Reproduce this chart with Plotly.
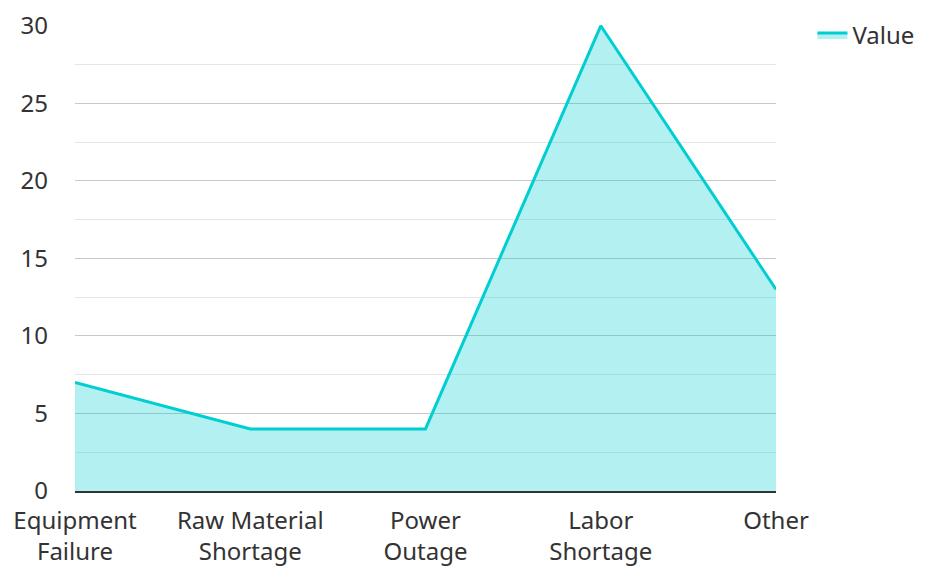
import plotly.graph_objects as go

categories = ["Equipment<br>Failure", "Raw Material<br>Shortage", "Power<br>Outage", "Labor<br>Shortage", "Other"]
values = [7, 4, 4, 30, 13]
y_ticks = [0, 5, 10, 15, 20, 25, 30]

fig = go.Figure()
fig.add_trace(go.Scatter(
    x=categories, y=values, name="Value", mode="lines",
    line=dict(color="#00CED1", width=3),
    fill="tozeroy", fillcolor="rgba(0,206,209,0.3)",
))

# page body has an 8px default margin, compensated here
fig.update_layout(
    width=925, height=567,
    margin=dict(l=67, r=157, t=17, b=84, autoexpand=False),
    paper_bgcolor="white", plot_bgcolor="white",
    font=dict(family="Noto Sans", size=24, color="#333333"),
    showlegend=True,
    legend=dict(x=1.052, y=1.026, xanchor="left", yanchor="top",
                font=dict(size=24, color="#333333"), bgcolor="rgba(0,0,0,0)"),
    xaxis=dict(
        range=[0, 4], showgrid=False, showline=True, linecolor="#333333", linewidth=2,
        ticks="", ticklabelstandoff=7, tickfont=dict(size=24, color="#333333"), zeroline=False,
    ),
    yaxis=dict(
        range=[0, 30.05], tickvals=y_ticks, showgrid=True, gridcolor="#c8c8c8", gridwidth=1,
        minor=dict(dtick=2.5, showgrid=True, gridcolor="#e6e6e6", gridwidth=1),
        zeroline=False, showline=False, ticks="", ticklabelstandoff=26,
        tickfont=dict(size=24, color="#333333"),
    ),
)

fig.write_html("out.html")
